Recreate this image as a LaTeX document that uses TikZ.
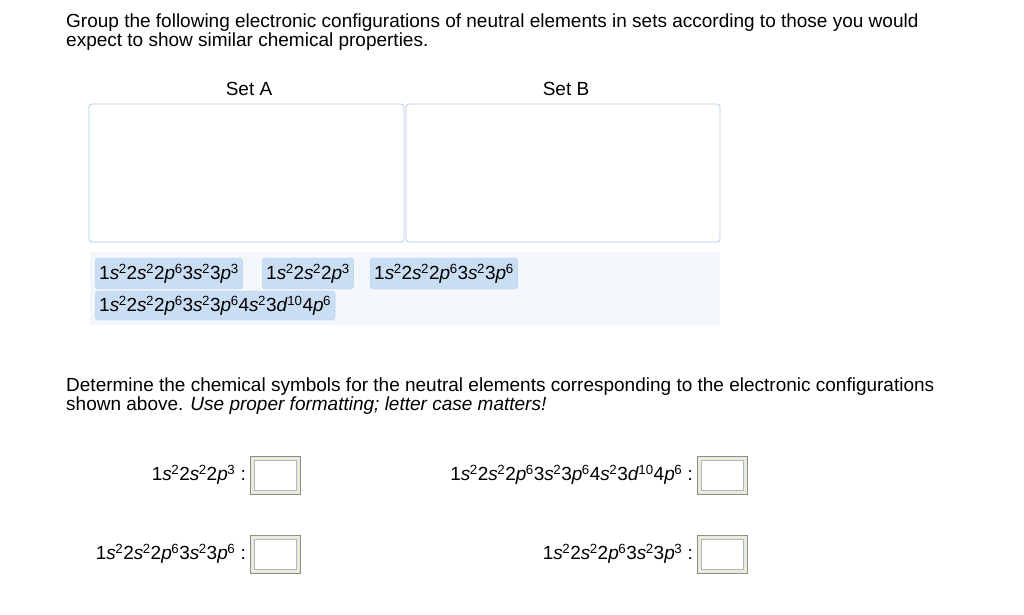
\documentclass[tikz,border=0pt]{standalone}
\usepackage{fontspec}
\setmainfont{Liberation Sans}
\definecolor{chipfill}{RGB}{201,221,243}
\definecolor{chipdraw}{RGB}{184,208,236}
\definecolor{poolfill}{RGB}{243,247,252}
\definecolor{setdraw}{RGB}{176,200,232}
\definecolor{ansgray}{RGB}{140,140,140}
\definecolor{anscream}{RGB}{236,235,218}
\definecolor{ansinner}{RGB}{170,185,195}
\newcommand{\cf}[3]{#1\textit{#2}\kern-0.5pt\textsuperscript{#3}}
\tikzset{
 txt/.style={font=\fontsize{19}{21}\selectfont, inner sep=0pt},
 setbox/.style={draw=setdraw, rounded corners=3pt, line width=0.8pt},
 chip/.style={fill=chipfill, draw=chipdraw, rounded corners=3pt, txt, minimum height=31pt, inner xsep=4pt, anchor=west},
 ansout/.style={draw=ansgray, fill=anscream, line width=1pt},
 ansin/.style={draw=ansinner, fill=white},
}
\newcommand{\ansbox}[3]{%
 \draw[ansout] (#1,#2) rectangle ++(50,38);
 \draw[ansin] (#1+4,#2+4) rectangle ++(42,30);
 \coordinate (#3) at (#1,#2+19);}
\begin{document}
\begin{tikzpicture}[x=1pt,y=-1pt]
\useasboundingbox (0,0) rectangle (1024,614);
\node[txt, anchor=base west] (q1) at (66,27) {Group the following electronic configurations of neutral elements in sets according to those you would};
\node[txt, anchor=base west] (q1b) at (66,46) {expect to show similar chemical properties.};
\node[txt, anchor=base] (sa) at (249,95) {Set A};
\node[txt, anchor=base] (sb) at (566,95) {Set B};
\draw[setbox] (89,104) rectangle (404,242);
\draw[setbox] (406,104) rectangle (720,242);
\fill[poolfill] (90,252) rectangle (720,325);
\node[chip] (c1) at (95,273.5) {\cf{1}{s}{2}\cf{2}{s}{2}\cf{2}{p}{6}\cf{3}{s}{2}\cf{3}{p}{3}};
\node[chip] (c2) at (262,273.5) {\cf{1}{s}{2}\cf{2}{s}{2}\cf{2}{p}{3}};
\node[chip] (c3) at (370,273.5) {\cf{1}{s}{2}\cf{2}{s}{2}\cf{2}{p}{6}\cf{3}{s}{2}\cf{3}{p}{6}};
\node[chip, minimum height=29pt] (c4) at (95,305.5) {\cf{1}{s}{2}\cf{2}{s}{2}\cf{2}{p}{6}\cf{3}{s}{2}\cf{3}{p}{6}\cf{4}{s}{2}\cf{3}{d}{10}\cf{4}{p}{6}};
\node[txt, anchor=base west] (q2) at (66,391) {Determine the chemical symbols for the neutral elements corresponding to the electronic configurations};
\node[txt, anchor=base west] (q2b) at (66,410) {shown above. \textit{Use proper formatting; letter case matters!}};
\ansbox{250}{456}{b1}
\ansbox{697}{456}{b2}
\ansbox{250}{535}{b3}
\ansbox{697}{535}{b4}
\node[txt, anchor=east] (l1) at ([xshift=-4pt]b1) {\cf{1}{s}{2}\cf{2}{s}{2}\cf{2}{p}{3} :};
\node[txt, anchor=east] (l2) at ([xshift=-4pt]b2) {\cf{1}{s}{2}\cf{2}{s}{2}\cf{2}{p}{6}\cf{3}{s}{2}\cf{3}{p}{6}\cf{4}{s}{2}\cf{3}{d}{10}\cf{4}{p}{6} :};
\node[txt, anchor=east] (l3) at ([xshift=-4pt]b3) {\cf{1}{s}{2}\cf{2}{s}{2}\cf{2}{p}{6}\cf{3}{s}{2}\cf{3}{p}{6} :};
\node[txt, anchor=east] (l4) at ([xshift=-4pt]b4) {\cf{1}{s}{2}\cf{2}{s}{2}\cf{2}{p}{6}\cf{3}{s}{2}\cf{3}{p}{3} :};
\end{tikzpicture}
\end{document}
